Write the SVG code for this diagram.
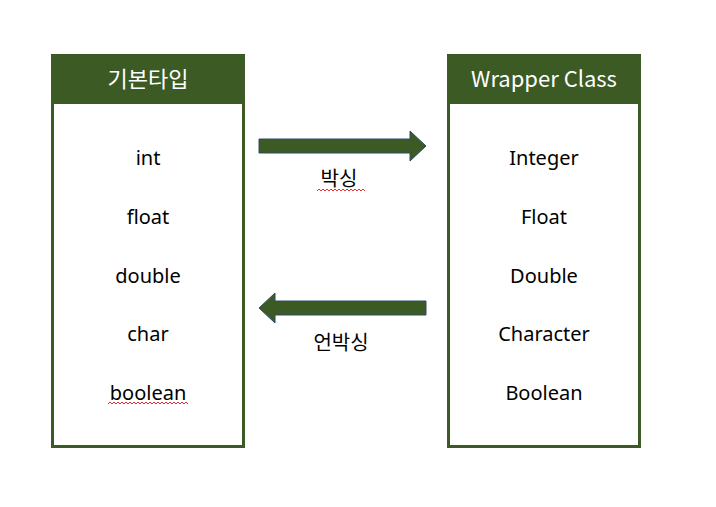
<svg xmlns="http://www.w3.org/2000/svg" width="716" height="507" viewBox="0 0 716 507">
<style>
.box{fill:#fff;stroke:#3c5a24;stroke-width:3}
.hdr{fill:#3c5a24}
.ht{font-family:"Noto Sans CJK KR","Noto Sans",sans-serif;font-size:22px;fill:#fff;text-anchor:middle}
.t{font-family:"Noto Sans","Noto Sans CJK KR",sans-serif;font-size:20px;fill:#000;text-anchor:middle}
.arr{fill:#3c5a24;stroke:#2f4a6a;stroke-width:1}
.sq{fill:none;stroke:#e03030;stroke-width:1}
</style>
<rect width="716" height="507" fill="#fff"/>
<g id="basic">
<rect class="box" x="52.5" y="55.5" width="191" height="391"/>
<rect class="hdr" x="51" y="54" width="194" height="50"/>
<text class="ht" x="148" y="87">기본타입</text>
<text class="t" x="148" y="165">int</text>
<text class="t" x="148" y="224">float</text>
<text class="t" x="148" y="283">double</text>
<text class="t" x="148" y="341">char</text>
<text class="t" x="148" y="400">boolean</text>
<path class="sq" d="M108 404 l2 -2 l2 2 l2 -2 l2 2 l2 -2 l2 2 l2 -2 l2 2 l2 -2 l2 2 l2 -2 l2 2 l2 -2 l2 2 l2 -2 l2 2 l2 -2 l2 2 l2 -2 l2 2 l2 -2 l2 2 l2 -2 l2 2 l2 -2 l2 2 l2 -2 l2 2 l2 -2 l2 2 l2 -2 l2 2 l2 -2 l2 2 l2 -2 l2 2 l2 -2 l2 2 l2 -2 l2 2"/>
</g>
<g id="wrapper">
<rect class="box" x="448.5" y="55.5" width="191" height="391"/>
<rect class="hdr" x="447" y="54" width="194" height="50"/>
<text class="ht" x="544" y="87">Wrapper Class</text>
<text class="t" x="544" y="165">Integer</text>
<text class="t" x="544" y="224">Float</text>
<text class="t" x="544" y="283">Double</text>
<text class="t" x="544" y="341">Character</text>
<text class="t" x="544" y="400">Boolean</text>
</g>
<g id="connectors">
<polygon class="arr" points="259,139 410,139 410,131 426,146 410,161 410,153 259,153"/>
<text class="t" x="339" y="186">박싱</text>
<path class="sq" d="M317 191 l2 -2 l2 2 l2 -2 l2 2 l2 -2 l2 2 l2 -2 l2 2 l2 -2 l2 2 l2 -2 l2 2 l2 -2 l2 2 l2 -2 l2 2 l2 -2 l2 2 l2 -2 l2 2 l2 -2 l2 2 l2 -2 l2 2"/>
<polygon class="arr" points="426,301 275,301 275,293 259,308 275,323 275,315 426,315"/>
<text class="t" x="341" y="350">언박싱</text>
</g>
</svg>
